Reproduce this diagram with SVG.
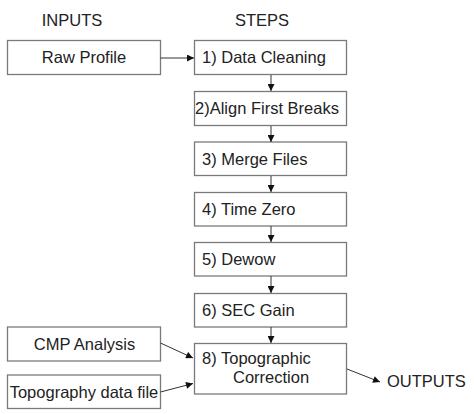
<svg xmlns="http://www.w3.org/2000/svg" width="474" height="414" viewBox="0 0 474 414">
<defs>
<style>
.box{fill:#fff;stroke:#7a7a7a;stroke-width:1.3}
.t{font-family:"Liberation Sans",Arial,sans-serif;font-size:16.5px;fill:#222}
.c{text-anchor:middle}
.ln{stroke:#333;stroke-width:1;fill:none;marker-end:url(#ah)}
</style>
<marker id="ah" viewBox="0 0 10 10" refX="10" refY="5" markerWidth="10" markerHeight="7" markerUnits="userSpaceOnUse" orient="auto">
<path d="M0,0 L10,5 L0,10 z" fill="#111"/>
</marker>
</defs>
<rect width="474" height="414" fill="#fff"/>
<text class="t c" x="72" y="26">INPUTS</text>
<text class="t c" x="262" y="26">STEPS</text>
<g id="raw"><rect class="box" x="7.5" y="40.5" width="153" height="34"/><text class="t c" x="84" y="63">Raw Profile</text></g>
<g id="s1"><rect class="box" x="194.5" y="40.5" width="152" height="34"/><text class="t" x="202" y="63">1) Data Cleaning</text></g>
<g id="s2"><rect class="box" x="194.5" y="91.5" width="152" height="34"/><text class="t" x="195" y="114">2)Align First Breaks</text></g>
<g id="s3"><rect class="box" x="194.5" y="142" width="152" height="33.5"/><text class="t" x="202" y="165">3) Merge Files</text></g>
<g id="s4"><rect class="box" x="194.5" y="192.5" width="152" height="33.5"/><text class="t" x="202" y="215">4) Time Zero</text></g>
<g id="s5"><rect class="box" x="194.5" y="242.5" width="152" height="33.5"/><text class="t" x="202" y="265">5) Dewow</text></g>
<g id="s6"><rect class="box" x="194.5" y="293.5" width="152" height="33.5"/><text class="t" x="202" y="316">6) SEC Gain</text></g>
<g id="s8"><rect class="box" x="194.5" y="343.5" width="152" height="50.5"/><text class="t" x="202" y="364">8) Topographic</text><text class="t" x="233" y="383">Correction</text></g>
<g id="cmp"><rect class="box" x="7.5" y="327" width="153" height="34"/><text class="t c" x="84.5" y="350">CMP Analysis</text></g>
<g id="topo"><rect class="box" x="7.5" y="375" width="153" height="33.5"/><text class="t c" x="84" y="398">Topography data file</text></g>
<text class="t" x="387" y="387">OUTPUTS</text>
<g id="connectors">
<line class="ln" x1="160.5" y1="58" x2="194" y2="58"/>
<line class="ln" x1="271" y1="75" x2="271" y2="91"/>
<line class="ln" x1="271" y1="126" x2="271" y2="142"/>
<line class="ln" x1="271" y1="176" x2="271" y2="192"/>
<line class="ln" x1="271" y1="226" x2="271" y2="242"/>
<line class="ln" x1="271" y1="276" x2="271" y2="293"/>
<line class="ln" x1="271" y1="327" x2="271" y2="343"/>
<line class="ln" x1="160.5" y1="343" x2="193" y2="358"/>
<line class="ln" x1="160.5" y1="392" x2="193" y2="383.5"/>
<line class="ln" x1="347" y1="369" x2="380" y2="382"/>
</g>
</svg>
